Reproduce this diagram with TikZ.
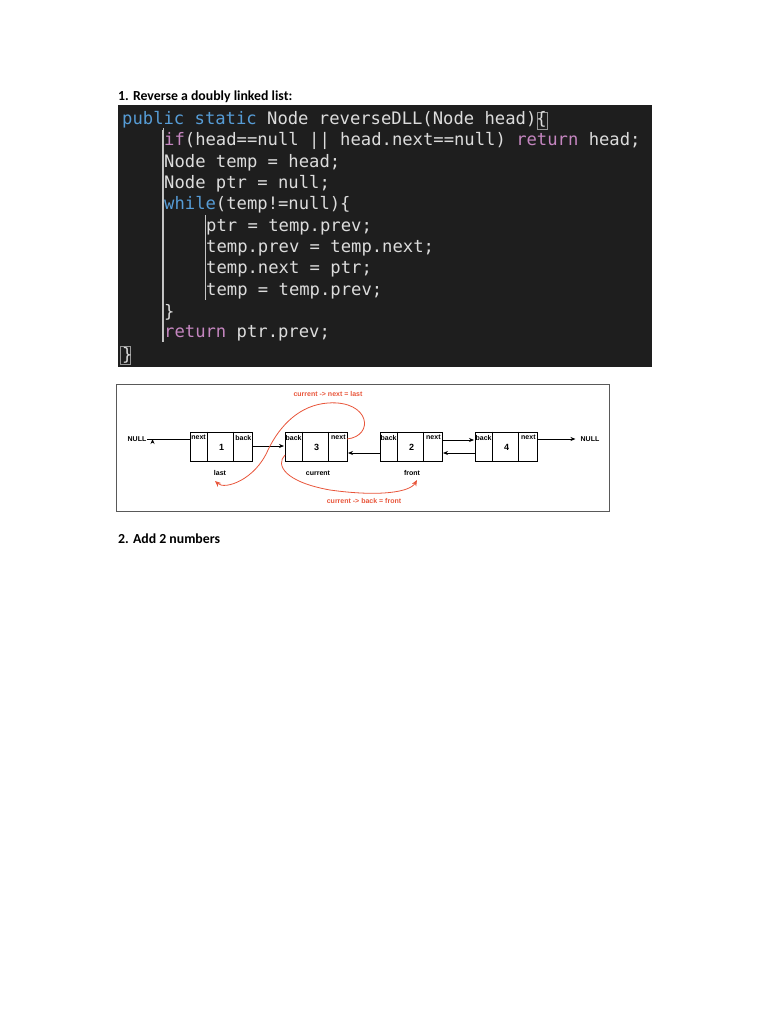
\documentclass[tikz,border=0pt]{standalone}
\usepackage{fontspec}
\setmainfont{Carlito}
\newfontfamily\codefont{DejaVu Sans Mono}
\newfontfamily\diafont{Liberation Sans}
\usetikzlibrary{arrows.meta}
\definecolor{codebg}{HTML}{1E1E1E}
\definecolor{codefg}{HTML}{DCDCDC}
\definecolor{kwblue}{HTML}{569CD6}
\definecolor{kwpink}{HTML}{C586C0}
\definecolor{redc}{HTML}{E8553A}
\tikzset{
 title/.style={anchor=base west,inner sep=0,font=\fontsize{13.8}{16}\selectfont\bfseries},
 code/.style={anchor=west,inner sep=0,text=codefg,font=\codefont\fontsize{17.2}{20}\selectfont},
 cell/.style={draw,thick,minimum height=29,inner sep=0},
 lab/.style={inner sep=0,font=\diafont\fontsize{7}{8}\selectfont\bfseries},
 redlab/.style={lab,text=redc},
 arr/.style={-{Stealth[length=5pt,width=4pt]},thick},
 rarr/.style={-{Stealth[length=6pt,width=5pt]},redc,thick}
}
\newcommand{\kb}[1]{\textcolor{kwblue}{#1}}
\newcommand{\kp}[1]{\textcolor{kwpink}{#1}}
\newcommand{\dllnode}[3]{%
 \node[cell,minimum width=62] (#1) at (#2,446.5) {};
 \draw[thick] ([xshift=18]#1.north west) -- ([xshift=18]#1.south west);
 \draw[thick] ([xshift=-19]#1.north east) -- ([xshift=-19]#1.south east);
 \node[lab,font=\diafont\fontsize{9}{10}\selectfont\bfseries] at (#2+0.5,447) {#3};}
\begin{document}
\begin{tikzpicture}[x=1pt,y=-1pt]
\useasboundingbox (0,0) rectangle (768,1024);
\node[title] (t1) at (118,101) {1. Reverse a doubly linked list:};
\node[title] (t2) at (118,543) {2. Add 2 numbers};
% code
\fill[codebg] (118,105) rectangle (652,367);
\draw[gray!60,line width=0.5] (163,130)--(163,131);
\draw[gray!50,line width=0.6] (163,128) -- (163,342);
\draw[gray!50,line width=0.6] (163,214) -- (163,300);
\draw[gray!45,line width=0.6] (162,130) -- (162,342);
\draw[gray!45,line width=0.6] (205,215) -- (205,300);
\draw[gray!80] (537,112) rectangle (547,129);
\draw[gray!80] (120,346) rectangle (130,364);
\node[code] (c1) at (122,120) {\kb{public static} Node reverseDLL(Node head)\{};
\node[code] (c2) at (164,141) {\kp{if}(head==null || head.next==null) \kp{return} head;};
\node[code] (c3) at (164,163) {Node temp = head;};
\node[code] (c4) at (164,184) {Node ptr = null;};
\node[code] (c5) at (164,205) {\kb{while}(temp!=null)\{};
\node[code] (c6) at (206,227) {ptr = temp.prev;};
\node[code] (c7) at (206,248) {temp.prev = temp.next;};
\node[code] (c8) at (206,269) {temp.next = ptr;};
\node[code] (c9) at (206,291) {temp = temp.prev;};
\node[code] (c10) at (164,312) {\}};
\node[code] (c11) at (164,333) {\kp{return} ptr.prev;};
\node[code] (c12) at (122,355) {\}};
% diagram
\draw[gray!70!black,line width=0.8] (116,384) rectangle (609,511);
\dllnode{n1}{221}{1}
\dllnode{n3}{316}{3}
\dllnode{n2}{411}{2}
\dllnode{n4}{506}{4}
\node[lab] (nl) at (137,439) {NULL};
\node[lab] (nr) at (590,439) {NULL};
\draw[arr] (n1.west|-nl) -- (nl.east) ++(6,0);
\draw[arr] (n4.east|-nr) -- ([xshift=-5]nr.west);
\draw[arr] (252,446) -- (284,446);
\draw[arr] (380,453) -- (348,453);
\draw[arr] (442,440) -- (474,440);
\draw[arr] (475,453) -- (443,453);
\foreach \n/\l/\r in {n1/next/back,n3/back/next,n2/back/next,n4/back/next}{
 \node[lab] at ([xshift=9,yshift=-6]\n.north west) {\l};
 \node[lab] at ([xshift=-9,yshift=-6]\n.north east) {\r};}
\node[lab] (last) at (220,473) {last};
\node[lab] (cur) at (318,473) {current};
\node[lab] (front) at (412,473) {front};
\node[redlab] (r1) at (328,394) {current -> next = last};
\node[redlab] (r2) at (364,501) {current -> back = front};
\draw[rarr] (347,439) .. controls (375,436) and (370,400) .. (328,403)
  .. controls (300,405) and (280,425) .. (268,450)
  .. controls (255,480) and (225,490) .. (215,481);
\draw[rarr] (285,455) .. controls (275,465) and (285,482) .. (330,490)
  .. controls (380,497) and (410,492) .. (417,480);
\end{tikzpicture}
\end{document}
